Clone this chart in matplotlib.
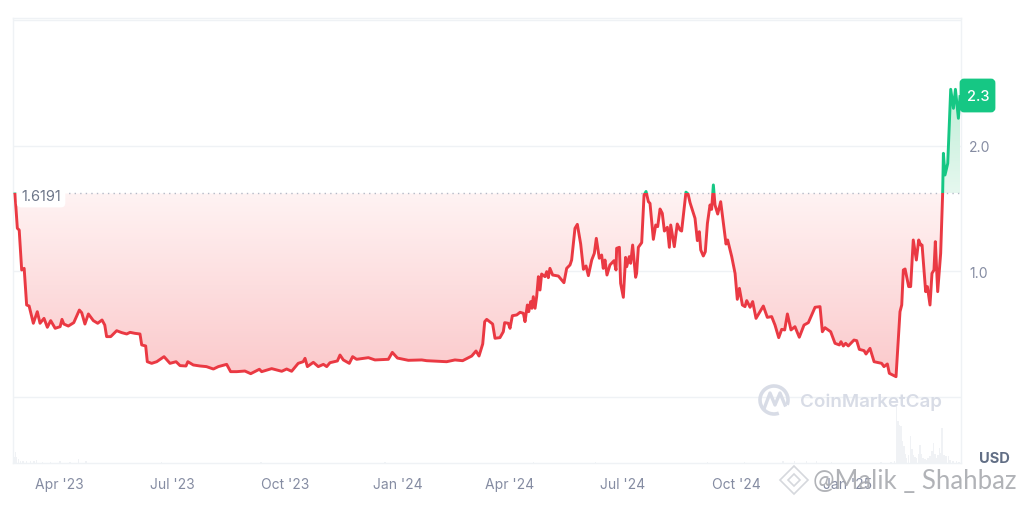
import numpy as np
import matplotlib
matplotlib.use("Agg")
import matplotlib.pyplot as plt
from matplotlib.colors import LinearSegmentedColormap
from matplotlib.patches import Rectangle, PathPatch, FancyBboxPatch, Arc, RegularPolygon

plt.rcParams['font.family'] = ['Inter', 'DejaVu Sans']

# days since the start of the chart (late Feb 2023) and price in USD
days = [1.6, 3.5, 5, 7, 9, 11, 13, 16.4, 19.6, 21.8, 25, 27.7, 30.4, 34, 38, 39.5, 41, 44.6, 49, 53.5,
        55.4, 58, 60.8, 64.8, 68.3, 71.8, 74, 75.5, 78.8, 83.6, 87.6, 91.7, 94.4, 98.4, 102.4, 103.8, 107, 108.3, 111.8, 115.9,
        121.8, 126.6, 131.5, 134.7, 139.5, 141, 145.4, 150.8, 156, 161.6, 165.6, 172.3, 175.5, 180.4, 187, 191.7, 198.7, 200.5, 208.6, 216.7,
        220.7, 224.7, 230, 234, 235.5, 237.4, 242.2, 246.2, 250.3, 253, 255.6, 261.6, 263.7, 266.4, 271.2, 273.9, 277.1, 286.6, 291.9, 302.7,
        305.9, 310, 318.8, 329.6, 333.6, 349.7, 356.4, 362.6, 369.9, 373.4, 375.8, 378.8, 380.4, 382, 386.8, 388.7, 392.7, 395.4, 396.5, 399.4,
        400.8, 402.7, 406.2, 408.9, 411.6, 412.9, 414.8, 415.9, 417.5, 418.5, 419.6, 421, 422.3, 423.7, 425, 426.3, 429, 430.4, 431.7, 433,
        435.2, 439.8, 444.3, 446.5, 449.2, 450.5, 453.2, 455.1, 457.8, 460, 462.1, 464, 466.7, 468.8, 470.4, 472.8, 474.7, 476, 477.4, 479,
        481.4, 484.7, 486.3, 486.8, 489, 490, 492.2, 494, 494.9, 497, 498.1, 499.7, 502.1, 502.9, 504.3, 507, 508.9, 510.5, 512.4, 513.7,
        516.4, 518.3, 519.9, 521.8, 523.6, 525.3, 527.7, 529.3, 530.4, 533.3, 535.7, 537.9, 539.2, 542.7, 544.4, 546, 550, 551.9, 553.5, 554.6,
        556.7, 558.3, 560, 562.1, 563.4, 564.8, 566.1, 568.3, 570.7, 575, 576.3, 579.6, 582.3, 584.1, 585.8, 588.2, 590.3, 591.7, 594.4, 596.5,
        599.2, 605.1, 608.3, 611.8, 614.5, 617.5, 619.9, 622.3, 624.5, 627.4, 630.6, 634.1, 637.9, 641.4, 646.8, 650.8, 652.7, 654.8, 659.4, 662.9,
        666.4, 667.7, 669.6, 671.5, 673.6, 678.2, 680.4, 682.5, 686.3, 687.9, 691.1, 694.4, 700.5, 702.4, 705.1, 706.7, 712.1, 715.3, 716.7, 718,
        719.4, 722.3, 723.9, 726, 728.5, 730.4, 732, 733.1, 736, 737.4, 739.5, 741.1, 742.7, 743.8, 745.7, 748.1, 749.7, 750.3, 751.6, 753.8,
        756.2, 758.4, 760, 762.4, 763.7]
price = [1.615, 1.343, 1.329, 1.012, 1.025, .734, .726, .589, .681, .589, .628, .557, .61, .549, .562, .62, .583, .567, .594, .694,
         .673, .583, .663, .61, .589, .615, .575, .483, .483, .53, .515, .504, .517, .509, .504, .417, .409, .284, .271, .284,
         .324, .271, .284, .253, .25, .284, .258, .25, .245, .226, .245, .263, .205, .205, .21, .189, .224, .205, .229, .208,
         .226, .208, .271, .284, .311, .245, .279, .245, .263, .245, .276, .29, .337, .298, .271, .324, .303, .316, .298, .303,
         .358, .313, .295, .298, .292, .284, .298, .292, .329, .369, .329, .425, .602, .62, .583, .47, .475, .522, .594, .589,
         .549, .649, .655, .676, .668, .602, .734, .681, .761, .708, .8, .708, .8, .959, .853, .98, .959, .999, .951, 1.025,
         .972, .964, .911, 1.025, 1.052, 1.091, 1.343, 1.374, 1.218, 1.017, 1.044, .967, 1.091, 1.144, 1.263, 1.105, 1.131, 1.025, 1.091, .972,
         1.052, 1.086, 1.012, 1.184, 1.192, .906, .795, 1.112, 1.038, 1.118, 1.065, 1.21, .954, .985, 1.192, 1.229, 1.607, 1.635, 1.554, 1.541,
         1.255, 1.369, 1.356, 1.496, 1.462, 1.321, 1.351, 1.192, 1.369, 1.197, 1.377, 1.329, 1.321, 1.63, 1.615, 1.546, 1.422, 1.245, 1.316, 1.171,
         1.123, 1.157, 1.382, 1.528, 1.493, 1.687, 1.528, 1.456, 1.554, 1.218, 1.25, 1.118, .985, .779, .866, .734, .721, .769, .716, .761,
         .628, .726, .636, .642, .575, .475, .541, .536, .663, .536, .562, .478, .575, .594, .716, .721, .522, .554, .522, .43,
         .417, .443, .409, .43, .409, .456, .451, .382, .372, .345, .39, .284, .271, .245, .266, .192, .165, .681, .734, 1.012,
         1.02, .88, .88, 1.25, 1.091, 1.25, 1.21, 1.21, .84, .88, .734, .985, 1.012, 1.237, .84, 1.144, 1.62, 1.938, 1.766, 1.858,
         2.446, 2.295, 2.446, 2.216, 2.388]
baseline = 1.6191

# volume, arbitrary units
vol_days = [1, 2, 3, 4.3, 6, 8, 11, 14, 17, 19, 24, 30, 38, 46, 53, 59, 120, 200, 300, 420, 470, 560, 590, 621, 630, 640, 648, 660,
            700, 708, 711, 712.6, 713.6, 714.8, 716, 717, 718.5, 719.6, 720.7, 722, 723.9, 725, 726, 727.3, 728.7, 730, 731.4, 732.7, 734, 735.4,
            736.8, 738, 739.5, 741, 742.2, 743.5, 744.9, 746, 747, 748, 749.2, 750.8, 752.5, 754.3, 755.6, 758, 761, 763]
vol_vals = [6, 11, 6, 4, 2, 2, 2, 2, 2, 3, 1, 1, 2, 1, 4, 2, 1, 1, 1, 1, 1, 1, 1, 2, 2, 2, 2, 1,
            1, 1, 2, 58, 42, 38, 37, 22, 17, 9, 5, 8, 27, 14, 8, 6, 5, 9, 18, 9, 5, 4,
            3, 5, 7, 12, 20, 9, 5, 8, 15, 10, 35, 8, 7, 7, 3, 2, 2, 1]

tick_days = [37.1, 128.2, 219.4, 310.5, 400.8, 491.9, 583, 673.4]
tick_labels = ["Apr '23", "Jul '23", "Oct '23", "Jan '24", "Apr '24", "Jul '24", "Oct '24", "Jan '25"]

red = "#ea3943"
green = "#16c784"
grid_col = "#eff2f5"
label_col = "#858ca2"

fig = plt.figure(figsize=(10.24, 5.06), dpi=100)
ax = fig.add_axes([13 / 1024, 1 - 464 / 506, 948 / 1024, 445 / 506])
xmax = 764.5
ymin, ymax = -0.52, 3.012

days = np.array(days)
price = np.array(price)

# volume bars live on their own scale
ax2 = ax.twinx()
ax2.set_ylim(0, 445)
ax2.axis("off")
ax2.bar(vol_days, vol_vals, width=1.1, color="#f0f2f5", lw=0)
ax.set_zorder(ax2.get_zorder() + 1)
ax.patch.set_visible(False)


def gradient_fill(lo, hi, cmap, area):
    # gradient picture clipped to the area between line and baseline
    grad = np.linspace(0, 1, 256).reshape(-1, 1)
    im = ax.imshow(grad, extent=(0, xmax, lo, hi), origin="lower", aspect="auto", cmap=cmap, zorder=1)
    path = area.get_paths()[0]
    area.remove()
    im.set_clip_path(PathPatch(path, transform=ax.transData))


red_cmap = LinearSegmentedColormap.from_list("r", ["#fbc9cb", "#fff3f3"])
green_cmap = LinearSegmentedColormap.from_list("g", ["#e6f8ef", "#bfeed7"])
gradient_fill(0.165, baseline, red_cmap, ax.fill_between(days, np.minimum(price, baseline), baseline, lw=0))
gradient_fill(baseline, 2.446, green_cmap, ax.fill_between(days, baseline, np.maximum(price, baseline), lw=0))

# same line twice, each colour clipped to its side of the baseline
for col, lo, hi in [(red, ymin, baseline), (green, baseline, ymax)]:
    line, = ax.plot(days, price, color=col, lw=2.1, solid_joinstyle="round", zorder=4)
    line.set_clip_path(Rectangle((0, lo), xmax, hi - lo, transform=ax.transData))

ax.axhline(baseline, color="#b4b9c6", lw=1, ls=(0, (1, 3)), zorder=3)

ax.set_xlim(0, xmax)
ax.set_ylim(ymin, ymax)
ax.set_xticks(tick_days)
ax.set_xticklabels(tick_labels)
ax.yaxis.tick_right()
ax.set_yticks([0, 1, 2, 3])
ax.set_yticklabels(["", "1.0", "2.0", ""])
ax.tick_params(axis="both", length=0, labelsize=10, labelcolor=label_col)
ax.tick_params(axis="x", pad=10)
ax.tick_params(axis="y", pad=6)
ax.grid(axis="y", color=grid_col, lw=1, zorder=0)
ax.set_axisbelow(True)
for s in ax.spines.values():
    s.set_color(grid_col)
    s.set_linewidth(1)

ax.text(days[0] + 5, baseline - 0.02, "1.6191", fontsize=10.5, color="#6d7689", va="center", ha="left", zorder=5,
        bbox=dict(boxstyle="round,pad=0.3", fc="white", ec="none"))

# overlay in pixel coordinates for the badge and the watermarks
ov = fig.add_axes([0, 0, 1, 1], zorder=10)
ov.set_xlim(0, 1024)
ov.set_ylim(506, 0)
ov.axis("off")

ov.add_patch(FancyBboxPatch((961, 81), 33, 31, boxstyle="round,pad=0,rounding_size=3", fc=green, ec=green, lw=2))
ov.text(978.5, 97, "2.3", color="white", fontsize=10.5, fontweight="medium", ha="center", va="center")
ov.text(994, 459, "USD", color="#616e85", fontsize=10.5, fontweight="bold", ha="center", va="center")

wm = "#d8dce6"
ov.add_patch(Arc((774, 401), 28, 28, theta1=70, theta2=20, color=wm, lw=2.6))
ov.plot([764, 770, 775, 780, 785], [410, 394, 406, 394, 406], color=wm, lw=2.4)
ov.text(800, 402, "CoinMarketCap", color=wm, fontsize=13.5, fontweight="semibold", va="center")

bn = "#d6d8dd"
ov.add_patch(RegularPolygon((794, 481), 4, radius=14, fc="none", ec=bn, lw=1.2))
ov.add_patch(RegularPolygon((794, 481), 4, radius=6, fc="none", ec=bn, lw=1.2))
ov.text(813, 482, "@Malik _ Shahbaz", color="#a9abb0", fontsize=18.5, fontfamily="Lato", va="center", alpha=0.9)

fig.savefig("out.png", dpi=100)
